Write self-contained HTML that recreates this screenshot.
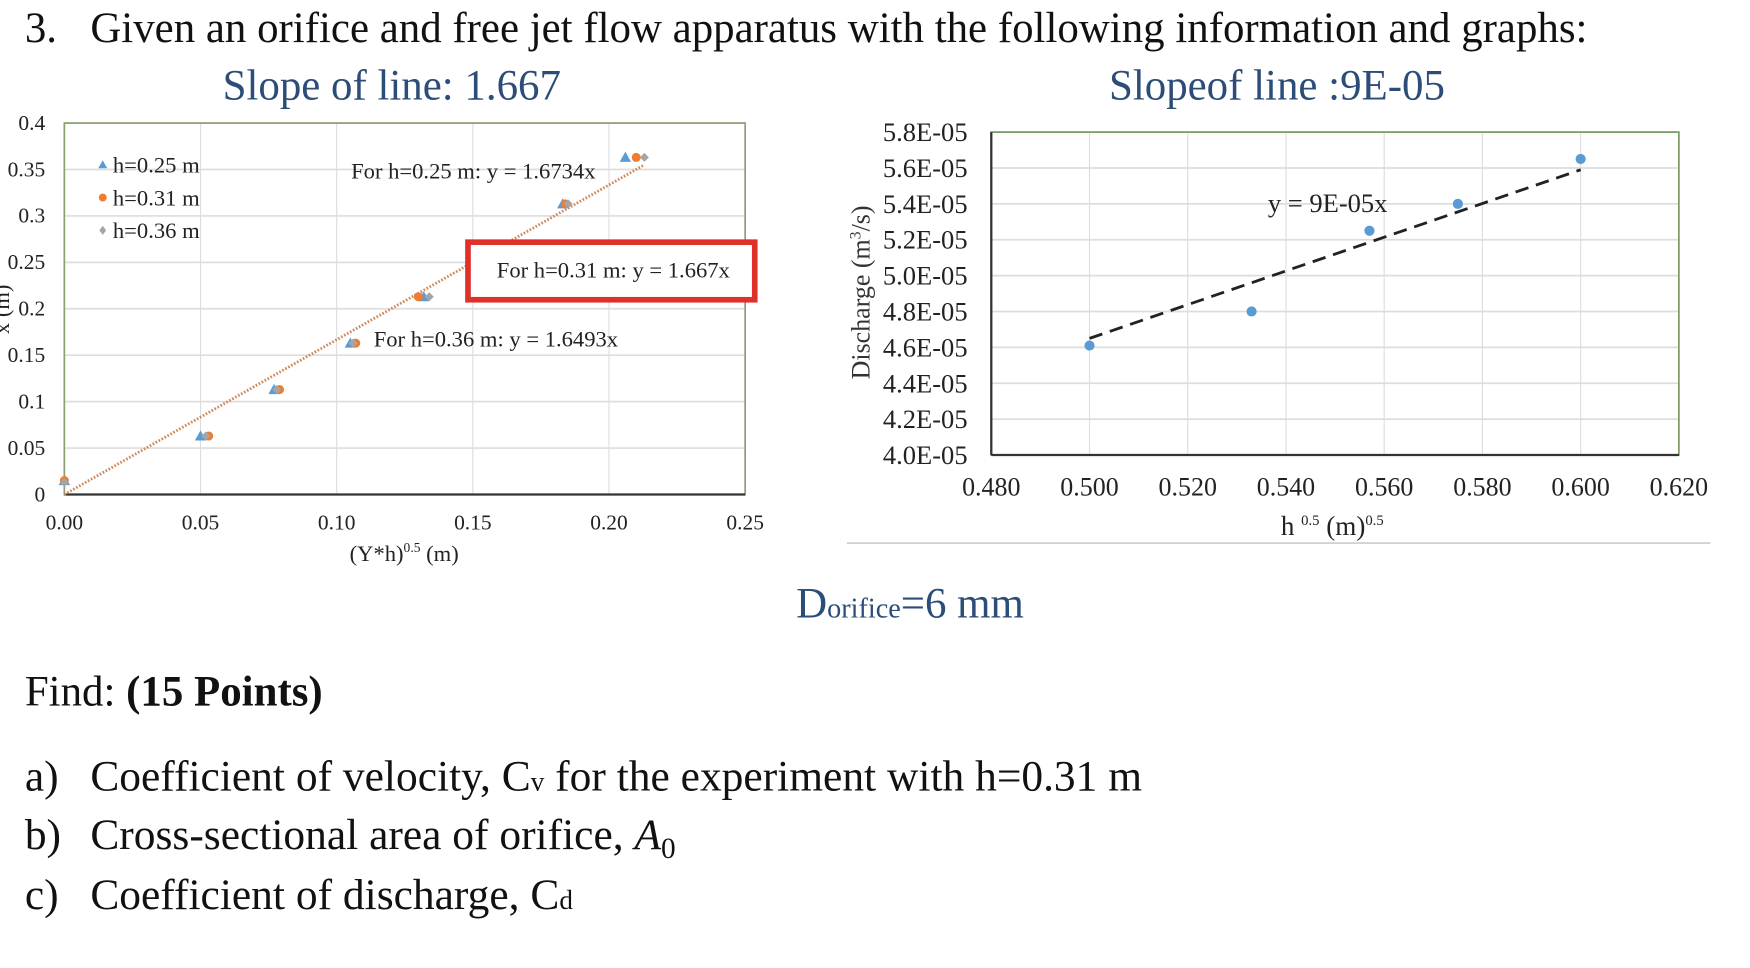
<!DOCTYPE html>
<html><head><meta charset="utf-8"><style>
html,body{margin:0;padding:0;background:#fff;}
svg{display:block;font-family:"Liberation Serif",serif;}
</style></head><body>
<svg width="1750" height="968" viewBox="0 0 1550 857.4" preserveAspectRatio="none">
<text x="22" y="37" font-size="38" fill="#111">3.<tspan x="80">Given an orifice and free jet flow apparatus with the following information and graphs:</tspan></text>
<text x="347" y="88" font-size="38" fill="#2d4d79" text-anchor="middle">Slope of line: 1.667</text>
<text x="1131" y="88" font-size="38" fill="#2d4d79" text-anchor="middle">Slopeof line :9E-05</text>
<g id="left"></g>
<g id="right"></g>
<line x1="750" y1="481" x2="1515" y2="481" stroke="#ccc" stroke-width="1.5"/>
<text x="806" y="547" font-size="38" fill="#2d4d79" text-anchor="middle">D<tspan font-size="25">orifice</tspan>=6 mm</text>
<text x="22" y="625" font-size="38" fill="#111">Find: <tspan font-weight="bold">(15 Points)</tspan></text>
<text x="22" y="700" font-size="38.5" fill="#111">a)<tspan x="80">Coefficient of velocity, C</tspan><tspan font-size="24">v</tspan> for the experiment with h=0.31 m</text>
<text x="22" y="752" font-size="38.5" fill="#111">b)<tspan x="80">Cross-sectional area of orifice, </tspan><tspan font-style="italic">A</tspan><tspan font-size="26" dy="8">0</tspan></text>
<text x="22" y="805" font-size="38.5" fill="#111">c)<tspan x="80">Coefficient of discharge, C</tspan><tspan font-size="24">d</tspan></text>
</svg>
<script>
const NS="http://www.w3.org/2000/svg";
function mk(p,t,a,txt){const e=document.createElementNS(NS,t);for(const k in a)e.setAttribute(k,a[k]);if(txt!==undefined)e.textContent=txt;p.appendChild(e);return e;}

// Left chart data
const lxTicks=[0,0.05,0.10,0.15,0.20,0.25];
const lyTicks=[0,0.05,0.1,0.15,0.2,0.25,0.3,0.35,0.4];
const lyTickLabels=["0","0.05","0.1","0.15","0.2","0.25","0.3","0.35","0.4"];
const xH025=[0,0.050,0.077,0.105,0.132,0.157,0.183,0.206];
const yH025=[0.015,0.063,0.113,0.163,0.213,0.263,0.313,0.363];
const xH031=[0,0.053,0.079,0.107,0.130,0.158,0.184,0.210];
const yH031=[0.015,0.063,0.113,0.163,0.213,0.263,0.313,0.363];
const xH036=[0,0.052,0.078,0.106,0.134,0.159,0.185,0.213];
const yH036=[0.013,0.063,0.113,0.163,0.213,0.263,0.313,0.363];
const trendX=[0,0.213];
const trendSlope=1.667;

const L=document.getElementById('left');
const lx=v=>57+v/0.25*603, ly=v=>438-v/0.4*329;
lxTicks.forEach(v=>{const g=mk(L,'line',{x1:lx(v),x2:lx(v),y1:ly(0),y2:ly(0.4),stroke:'#ddd','stroke-width':1});

const t=mk(L,'text',{x:lx(v),y:469,'font-size':19,'text-anchor':'middle',fill:'#222'},v.toFixed(2));
});
lyTicks.forEach((v,i)=>{const g=mk(L,'line',{x1:lx(0),x2:lx(0.25),y1:ly(v),y2:ly(v),stroke:'#ddd','stroke-width':1.5});

const t=mk(L,'text',{x:40,y:ly(v)+6,'font-size':19,'text-anchor':'end',fill:'#222'},lyTickLabels[i]);
});
let fr=mk(L,'rect',{x:lx(0),y:ly(0.4),width:603,height:329,fill:'none',stroke:'#8aa070','stroke-width':1.5});

let ax=mk(L,'line',{x1:lx(0),x2:lx(0.25),y1:ly(0),y2:ly(0),stroke:'#333','stroke-width':2});

let tr=mk(L,'line',{x1:lx(trendX[0]),y1:ly(trendX[0]*trendSlope),x2:lx(trendX[1]),y2:ly(trendX[1]*trendSlope),stroke:'#d08a5a','stroke-width':2.5,'stroke-dasharray':'1.5 1.5'});

xH025.forEach((x,i)=>{const X=lx(x),Y=ly(yH025[i]);const p=mk(L,'polygon',{points:`${X},${Y-5} ${X-5},${Y+4} ${X+5},${Y+4}`,fill:'#5b9bd5'});
});
xH031.forEach((x,i)=>{const c=mk(L,'circle',{cx:lx(x),cy:ly(yH031[i]),r:4,fill:'#ed7d31'});
});
xH036.forEach((x,i)=>{const X=lx(x),Y=ly(yH036[i]);const p=mk(L,'polygon',{points:`${X},${Y-4} ${X+4},${Y} ${X},${Y+4} ${X-4},${Y}`,fill:'#a5a5a5'});
});
// legend
[['#5b9bd5','h=0.25 m',146,'tri'],['#ed7d31','h=0.31 m',175,'circ'],['#a5a5a5','h=0.36 m',204,'dia']].forEach(d=>{
 let m;if(d[3]==='tri')m=mk(L,'polygon',{points:`91,${d[2]-4} 87,${d[2]+3} 95,${d[2]+3}`,fill:d[0]});
 else if(d[3]==='circ')m=mk(L,'circle',{cx:91,cy:d[2],r:3.5,fill:d[0]});
 else m=mk(L,'polygon',{points:`91,${d[2]-4} 94,${d[2]} 91,${d[2]+4} 88,${d[2]}`,fill:d[0]});
 
 const t=mk(L,'text',{x:100,y:d[2]+7,'font-size':20,fill:'#222'},d[1]);
 });
let a1=mk(L,'text',{x:311,y:158,'font-size':20,fill:'#222'},'For h=0.25 m: y = 1.6734x');

let rb=mk(L,'rect',{x:414.5,y:214.5,width:254,height:51,fill:'#fff',stroke:'#e0302a','stroke-width':5});

let a2=mk(L,'text',{x:440,y:246,'font-size':20,fill:'#222'},'For h=0.31 m: y = 1.667x');

let a3=mk(L,'text',{x:331,y:307,'font-size':20,fill:'#222'},'For h=0.36 m: y = 1.6493x');

let xt=mk(L,'text',{x:358,y:497,'font-size':20,'text-anchor':'middle',fill:'#222'});
xt.innerHTML='(Y*h)<tspan font-size="12" dy="-8">0.5</tspan><tspan dy="8"> (m)</tspan>';

let yt=mk(L,'text',{x:0,y:0,'font-size':20,'text-anchor':'middle',fill:'#222',transform:'translate(8,274) rotate(-90)'},'x (m)');


// Right chart data
const rxTicks=[0.48,0.50,0.52,0.54,0.56,0.58,0.60,0.62];
const ryTicks=[4.0,4.2,4.4,4.6,4.8,5.0,5.2,5.4,5.6,5.8];
const ryTickLabels=["4.0E-05","4.2E-05","4.4E-05","4.6E-05","4.8E-05","5.0E-05","5.2E-05","5.4E-05","5.6E-05","5.8E-05"];
const qX=[0.500,0.533,0.557,0.575,0.600];
const qY=[4.61,4.80,5.25,5.40,5.65];
const fitX=[0.500,0.600];
const fitY=[4.65,5.59];

const R=document.getElementById('right');
const rx=v=>878+(v-0.48)/0.14*609, ry=v=>403-(v-4.0)/1.8*286;
rxTicks.forEach(v=>{const g=mk(R,'line',{x1:rx(v),x2:rx(v),y1:ry(4),y2:ry(5.8),stroke:'#ddd','stroke-width':1});

const t=mk(R,'text',{x:rx(v),y:439,'font-size':23,'text-anchor':'middle',fill:'#222'},v.toFixed(3));
});
ryTicks.forEach((v,i)=>{const g=mk(R,'line',{x1:rx(0.48),x2:rx(0.62),y1:ry(v),y2:ry(v),stroke:'#ddd','stroke-width':1.5});

const t=mk(R,'text',{x:857,y:ry(v)+8,'font-size':23.5,'text-anchor':'end',fill:'#222'},ryTickLabels[i]);
});
fr=mk(R,'rect',{x:rx(0.48),y:ry(5.8),width:609,height:286,fill:'none',stroke:'#7a9a60','stroke-width':1.5});

ax=mk(R,'line',{x1:rx(0.48),x2:rx(0.62),y1:ry(4),y2:ry(4),stroke:'#333','stroke-width':2});

ax=mk(R,'line',{x1:rx(0.48),x2:rx(0.48),y1:ry(4),y2:ry(5.8),stroke:'#333','stroke-width':2});

let fl=mk(R,'line',{x1:rx(fitX[0]),y1:ry(fitY[0]),x2:rx(fitX[1]),y2:ry(fitY[1]),stroke:'#222','stroke-width':2.5,'stroke-dasharray':'12 7'});

qX.forEach((x,i)=>{const c=mk(R,'circle',{cx:rx(x),cy:ry(qY[i]),r:4.5,fill:'#5b9bd5'});
});
let eq=mk(R,'text',{x:1123,y:188,'font-size':23.5,fill:'#222'},'y = 9E-05x');

xt=mk(R,'text',{x:1180,y:474,'font-size':24,'text-anchor':'middle',fill:'#222'});
xt.innerHTML='h <tspan font-size="13" dy="-9">0.5</tspan><tspan dy="9"> (m)</tspan><tspan font-size="13" dy="-9">0.5</tspan>';

yt=mk(R,'text',{x:0,y:0,'font-size':23,'text-anchor':'middle',fill:'#333',transform:'translate(770,259) rotate(-90)'});
yt.innerHTML='Discharge  (m<tspan font-size="14" dy="-8">3</tspan><tspan dy="8">/s)</tspan>';

</script>
</body></html>
